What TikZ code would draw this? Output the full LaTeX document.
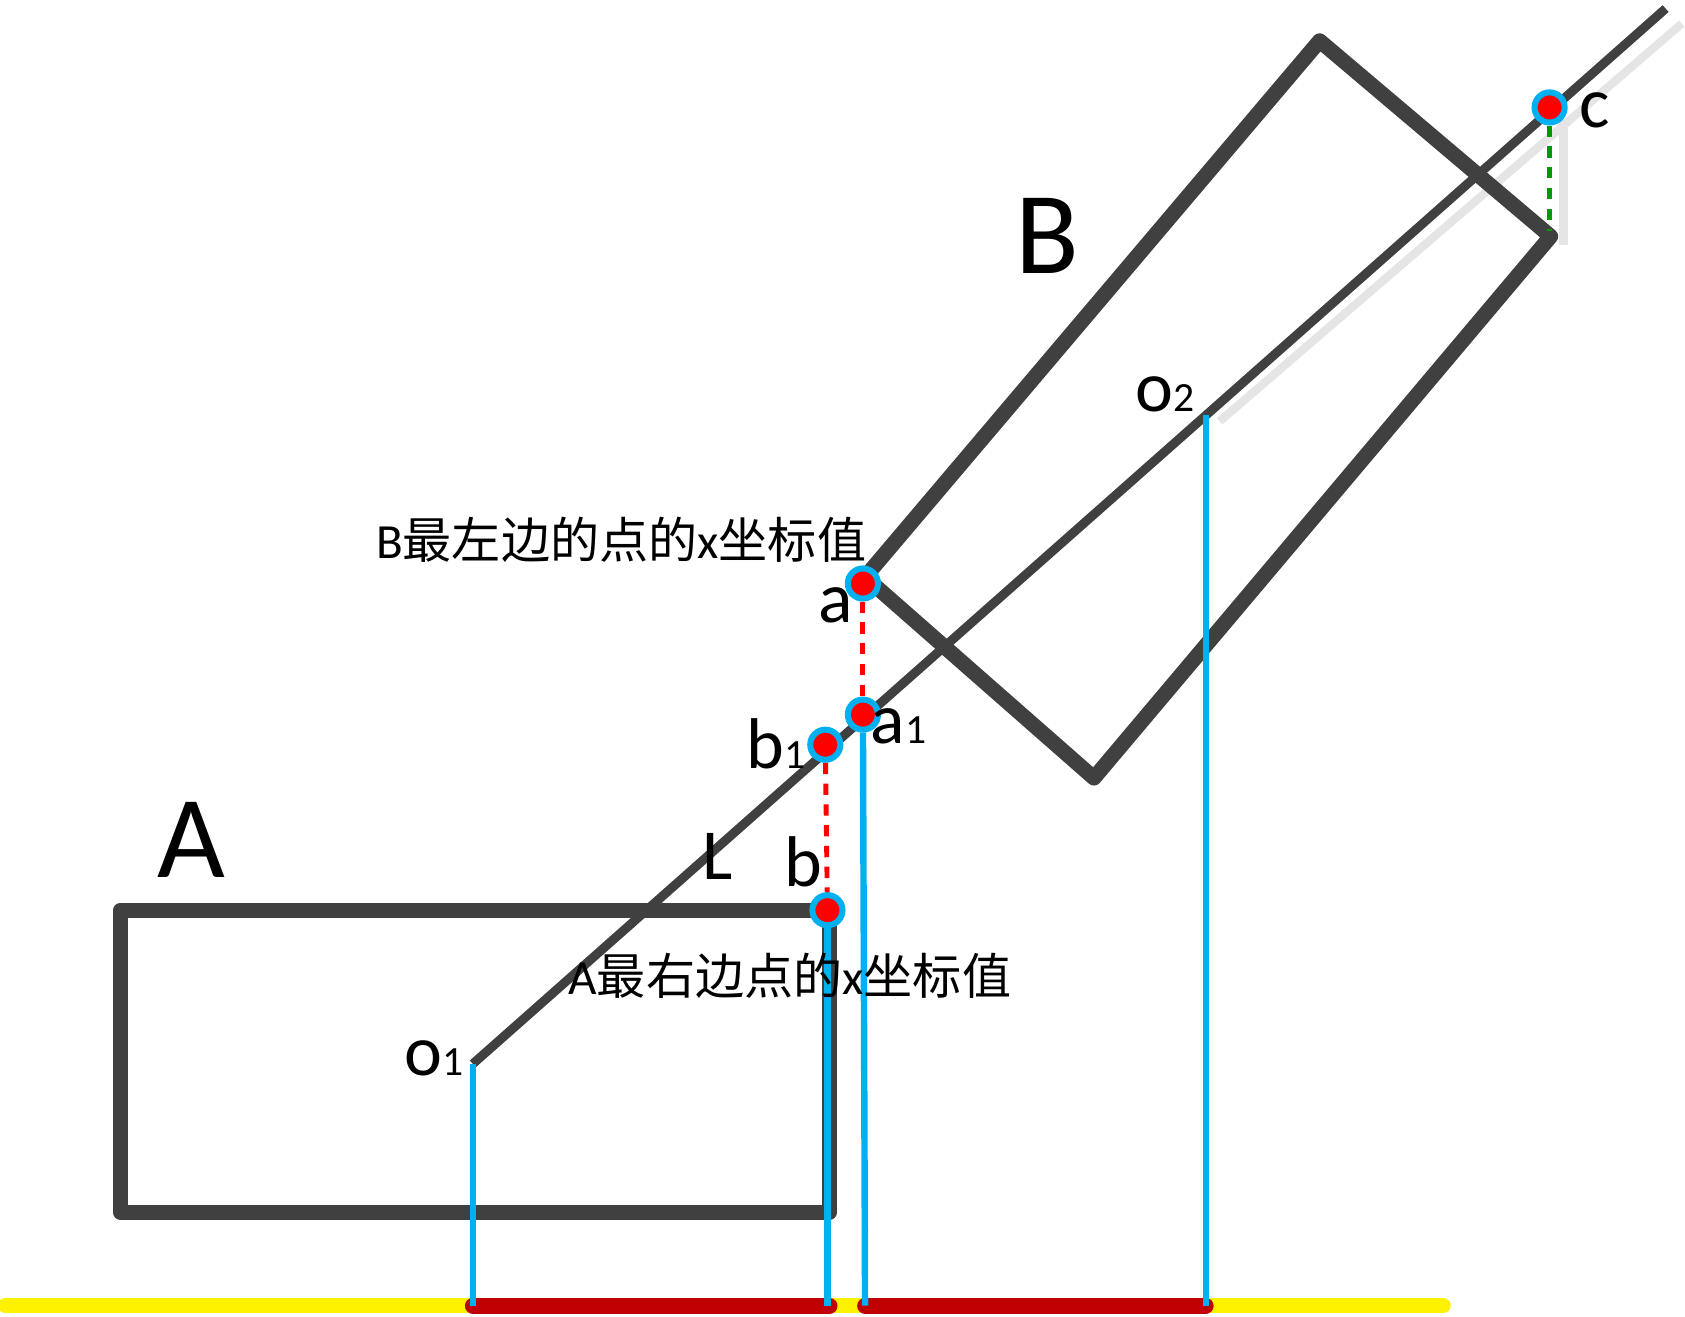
\documentclass[tikz,border=0pt]{standalone}
\usepackage{fontspec}
\setmainfont{Carlito}
\newfontfamily\cjk{Noto Sans CJK SC}
\newcommand{\subn}[1]{{\fontsize{11}{12}\selectfont #1}}
\begin{document}
\begin{tikzpicture}[x=0.01cm,y=-0.01cm,
 box/.style={line width=4pt,draw=black!75,line join=round,line cap=round},
 proj/.style={line width=1.7pt,draw={rgb,255:red,0;green,176;blue,240}},
 seg/.style={line width=4.2pt,draw={rgb,255:red,192;green,0;blue,0},line cap=round},
 pt/.style={circle,fill=red,draw={rgb,255:red,0;green,176;blue,240},line width=1.6pt,minimum size=0.28cm,inner sep=0pt},
 lab/.style={font=\fontsize{19}{22}\selectfont,inner sep=0pt},
 big/.style={font=\fontsize{31}{36}\selectfont,inner sep=0pt},
 cn/.style={font=\fontsize{13}{15}\selectfont,inner sep=0pt}]
\useasboundingbox (0,0) rectangle (1568,1225);
\draw[line width=4pt,yellow,line cap=round] (5,1215) -- (1343,1215);
\draw[seg] (440,1215) -- (772,1215);
\draw[seg] (805,1215) -- (1122,1215);
\draw[line width=2.2pt,black!10] (1135,392) -- (1565,22);
\draw[line width=2.2pt,black!10] (1455,112) -- (1455,228);
\draw[box] (112,847) rectangle (772,1128);
\draw[box] (805,537) -- (1228,38) -- (1443,220) -- (1018,724) -- cycle;
\coordinate (o1) at (440,990);
\coordinate (o2) at (1122,386);
\coordinate (Lend) at (1550,8);
\draw[line width=2.4pt,black!75] (o1) -- (Lend);
\node[pt] (a) at (803,543) {};
\node[pt] (a1) at (803,665) {};
\node[pt] (b1) at (768,693) {};
\node[pt] (b) at (770,847) {};
\node[pt] (c) at (1442,100) {};
\coordinate (cb) at (1442,215);
\coordinate (g1) at (440,1215);
\coordinate (g2) at (770,1215);
\coordinate (g3) at (805,1215);
\coordinate (g4) at (1122,1215);
\draw[proj] (o1) -- (g1);
\draw[proj] (b) -- (g2);
\draw[proj] (a1) -- (g3);
\draw[proj] (o2) -- (g4);
\draw[red,line width=1.3pt,dash pattern=on 3pt off 2.5pt] (a) -- (a1);
\draw[red,line width=1.3pt,dash pattern=on 3pt off 2.5pt] (b1) -- (b);
\draw[green!60!black,line width=1.3pt,dash pattern=on 3pt off 2.5pt] (c) -- (cb);
\node[big] (lB) at (975,220) {B};
\node[big] (lA) at (178,782) {A};
\node[lab] (la) at (778,563) {a};
\node[lab] (la1) at (836,676) {a\subn{1}};
\node[lab] (lb1) at (722,692) {b\subn{1}};
\node[lab] (lb) at (748,802) {b};
\node[lab] (lc) at (1484,103) {c};
\node[lab] (lo2) at (1084,367) {o\subn{2}};
\node[lab] (lo1) at (404,985) {o\subn{1}};
\node[lab] (lL) at (668,797) {L};
\node[cn] (t1) at (578,502) {B{\cjk 最左边的点的}x{\cjk 坐标值}};
\node[cn] (t2) at (735,908) {A{\cjk 最右边点的}x{\cjk 坐标值}};
\end{tikzpicture}
\end{document}
